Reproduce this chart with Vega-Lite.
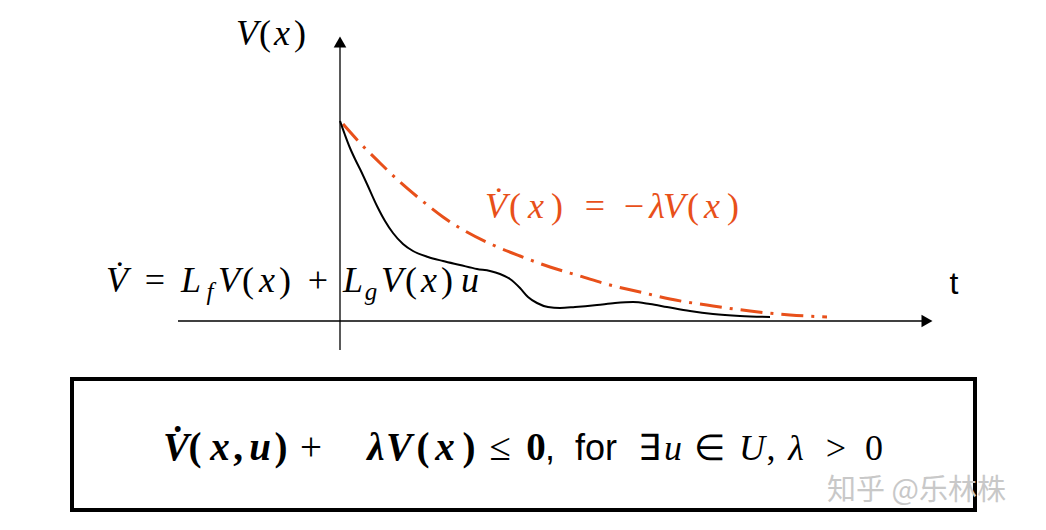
{
  "$schema": "https://vega.github.io/schema/vega-lite/v6.json",
  "autosize": {"type": "fit", "contains": "padding"},
  "width": 1046,
  "height": 530,
  "padding": 0,
  "background": "white",
  "config": {"view": {"stroke": null}},
  "datasets": {
    "axes": [
      {"x": 340, "y": 350, "x2": 340, "y2": 45},
      {"x": 178, "y": 321, "x2": 925, "y2": 321}
    ],
    "box": [{"x": 72, "y": 379, "x2": 975, "y2": 510}],
    "curve": [
      {"x": 340, "y": 121}, {"x": 345, "y": 135}, {"x": 350, "y": 148}, {"x": 355, "y": 159},
      {"x": 360, "y": 169}, {"x": 367, "y": 184}, {"x": 377, "y": 206}, {"x": 385, "y": 221},
      {"x": 393, "y": 233}, {"x": 403, "y": 244}, {"x": 413, "y": 251}, {"x": 428, "y": 257},
      {"x": 443, "y": 261}, {"x": 460, "y": 265}, {"x": 477, "y": 269}, {"x": 490, "y": 271},
      {"x": 500, "y": 274}, {"x": 510, "y": 279}, {"x": 520, "y": 288}, {"x": 528, "y": 297},
      {"x": 537, "y": 303}, {"x": 548, "y": 307}, {"x": 560, "y": 308}, {"x": 575, "y": 307},
      {"x": 597, "y": 305}, {"x": 615, "y": 303}, {"x": 633, "y": 302}, {"x": 650, "y": 304},
      {"x": 667, "y": 307}, {"x": 690, "y": 311}, {"x": 713, "y": 314}, {"x": 740, "y": 316},
      {"x": 770, "y": 317}
    ],
    "bound": [
      {"x": 343, "y": 124}, {"x": 360, "y": 143}, {"x": 380, "y": 163}, {"x": 400, "y": 182},
      {"x": 420, "y": 199}, {"x": 443, "y": 217}, {"x": 465, "y": 231}, {"x": 493, "y": 245},
      {"x": 520, "y": 256}, {"x": 550, "y": 267}, {"x": 580, "y": 276}, {"x": 610, "y": 285},
      {"x": 640, "y": 292}, {"x": 670, "y": 299}, {"x": 713, "y": 306}, {"x": 750, "y": 311},
      {"x": 790, "y": 315}, {"x": 827, "y": 317}
    ],
    "arrows": [
      {"x": 340, "y": 42, "dir": "up"},
      {"x": 927, "y": 321, "dir": "right"}
    ],
    "italic": [
      {"x": 247, "y": 45, "t": "V"},
      {"x": 282, "y": 45, "t": "x"},
      {"x": 117, "y": 292, "t": "V̇"},
      {"x": 191, "y": 292, "t": "L"},
      {"x": 229, "y": 292, "t": "V"},
      {"x": 267, "y": 292, "t": "x"},
      {"x": 353, "y": 292, "t": "L"},
      {"x": 392, "y": 292, "t": "V"},
      {"x": 429, "y": 292, "t": "x"},
      {"x": 470, "y": 292, "t": "u"},
      {"x": 673, "y": 460, "t": "u"},
      {"x": 752, "y": 460, "t": "U"},
      {"x": 796, "y": 460, "t": "λ"}
    ],
    "upright": [
      {"x": 265, "y": 45, "t": "("},
      {"x": 300, "y": 45, "t": ")"},
      {"x": 155, "y": 292, "t": "="},
      {"x": 248, "y": 292, "t": "("},
      {"x": 285, "y": 292, "t": ")"},
      {"x": 318, "y": 292, "t": "+"},
      {"x": 411, "y": 292, "t": "("},
      {"x": 447, "y": 292, "t": ")"},
      {"x": 649, "y": 460, "t": "∃"},
      {"x": 709, "y": 460, "t": "∈"},
      {"x": 771, "y": 460, "t": ","},
      {"x": 836, "y": 460, "t": ">"},
      {"x": 874, "y": 460, "t": "0"}
    ],
    "subs": [
      {"x": 210, "y": 300, "t": "f"},
      {"x": 371, "y": 300, "t": "g"}
    ],
    "orangeItalic": [
      {"x": 496, "y": 218, "t": "V̇"},
      {"x": 536, "y": 218, "t": "x"},
      {"x": 657, "y": 218, "t": "λ"},
      {"x": 674, "y": 218, "t": "V"},
      {"x": 712, "y": 218, "t": "x"}
    ],
    "orangeUpright": [
      {"x": 515, "y": 218, "t": "("},
      {"x": 557, "y": 218, "t": ")"},
      {"x": 595, "y": 218, "t": "="},
      {"x": 634, "y": 218, "t": "−"},
      {"x": 693, "y": 218, "t": "("},
      {"x": 733, "y": 218, "t": ")"}
    ],
    "tlabel": [{"x": 954, "y": 284, "t": "t"}],
    "boldItalic": [
      {"x": 176, "y": 460, "t": "V̇"},
      {"x": 220, "y": 460, "t": "x"},
      {"x": 260, "y": 460, "t": "u"},
      {"x": 376, "y": 460, "t": "λ"},
      {"x": 399, "y": 460, "t": "V"},
      {"x": 445, "y": 460, "t": "x"}
    ],
    "boldUpright": [
      {"x": 195, "y": 460, "t": "("},
      {"x": 238, "y": 460, "t": ","},
      {"x": 281, "y": 460, "t": ")"},
      {"x": 423, "y": 460, "t": "("},
      {"x": 469, "y": 460, "t": ")"},
      {"x": 536, "y": 460, "t": "0"}
    ],
    "plus": [{"x": 311, "y": 460, "t": "+"}, {"x": 500, "y": 460, "t": "≤"}],
    "boxsans": [{"x": 550, "y": 460, "t": ","}, {"x": 596, "y": 460, "t": "for"}],
    "wm": [{"x": 827, "y": 491, "t": "知乎 @乐林株"}]
  },
  "encoding": {
    "x": {"field": "x", "type": "quantitative", "scale": {"domain": [0, 1046], "nice": false, "zero": false}, "axis": null},
    "y": {"field": "y", "type": "quantitative", "scale": {"domain": [0, 530], "nice": false, "zero": false, "reverse": true}, "axis": null}
  },
  "layer": [
    {
      "data": {"name": "box"},
      "mark": {"type": "rect", "fill": null, "stroke": "#000000", "strokeWidth": 4},
      "encoding": {"x2": {"field": "x2"}, "y2": {"field": "y2"}}
    },
    {
      "data": {"name": "axes"},
      "mark": {"type": "rule", "stroke": "#000000", "strokeWidth": 1.3},
      "encoding": {"x2": {"field": "x2"}, "y2": {"field": "y2"}}
    },
    {
      "data": {"name": "arrows"},
      "mark": {"type": "point", "filled": true, "color": "#000000", "size": 160, "opacity": 1},
      "encoding": {
        "shape": {"field": "dir", "type": "nominal", "scale": {"domain": ["up", "right"], "range": ["triangle-up", "triangle-right"]}, "legend": null}
      }
    },
    {
      "data": {"name": "bound"},
      "mark": {"type": "line", "stroke": "#E8501A", "strokeWidth": 3, "strokeDash": [22, 8, 3, 8], "interpolate": "monotone"},
      "encoding": {}
    },
    {
      "data": {"name": "curve"},
      "mark": {"type": "line", "stroke": "#000000", "strokeWidth": 2, "interpolate": "monotone"},
      "encoding": {}
    },
    {
      "data": {"name": "italic"},
      "mark": {"type": "text", "font": "Liberation Serif", "fontStyle": "italic", "fontSize": 36, "align": "center", "baseline": "alphabetic", "color": "#000000"},
      "encoding": {"text": {"field": "t"}}
    },
    {
      "data": {"name": "upright"},
      "mark": {"type": "text", "font": "Liberation Serif", "fontSize": 36, "align": "center", "baseline": "alphabetic", "color": "#000000"},
      "encoding": {"text": {"field": "t"}}
    },
    {
      "data": {"name": "subs"},
      "mark": {"type": "text", "font": "Liberation Serif", "fontStyle": "italic", "fontSize": 25, "align": "center", "baseline": "alphabetic", "color": "#000000"},
      "encoding": {"text": {"field": "t"}}
    },
    {
      "data": {"name": "orangeItalic"},
      "mark": {"type": "text", "font": "Liberation Serif", "fontStyle": "italic", "fontSize": 36, "align": "center", "baseline": "alphabetic", "color": "#E8501A"},
      "encoding": {"text": {"field": "t"}}
    },
    {
      "data": {"name": "orangeUpright"},
      "mark": {"type": "text", "font": "Liberation Serif", "fontSize": 36, "align": "center", "baseline": "alphabetic", "color": "#E8501A"},
      "encoding": {"text": {"field": "t"}}
    },
    {
      "data": {"name": "tlabel"},
      "mark": {"type": "text", "font": "Liberation Sans", "fontSize": 32, "align": "center", "baseline": "middle", "color": "#000000"},
      "encoding": {"text": {"field": "t"}}
    },
    {
      "data": {"name": "boldItalic"},
      "mark": {"type": "text", "font": "Liberation Serif", "fontStyle": "italic", "fontWeight": "bold", "fontSize": 39, "align": "center", "baseline": "alphabetic", "color": "#000000"},
      "encoding": {"text": {"field": "t"}}
    },
    {
      "data": {"name": "boldUpright"},
      "mark": {"type": "text", "font": "Liberation Serif", "fontWeight": "bold", "fontSize": 39, "align": "center", "baseline": "alphabetic", "color": "#000000"},
      "encoding": {"text": {"field": "t"}}
    },
    {
      "data": {"name": "plus"},
      "mark": {"type": "text", "font": "Liberation Serif", "fontSize": 39, "align": "center", "baseline": "alphabetic", "color": "#000000"},
      "encoding": {"text": {"field": "t"}}
    },
    {
      "data": {"name": "boxsans"},
      "mark": {"type": "text", "font": "Liberation Sans", "fontSize": 36, "align": "center", "baseline": "alphabetic", "color": "#000000"},
      "encoding": {"text": {"field": "t"}}
    },
    {
      "data": {"name": "wm"},
      "mark": {"type": "text", "font": "Noto Sans CJK SC", "fontSize": 29, "align": "left", "baseline": "middle", "color": "#C8C8C8"},
      "encoding": {"text": {"field": "t"}}
    }
  ]
}
